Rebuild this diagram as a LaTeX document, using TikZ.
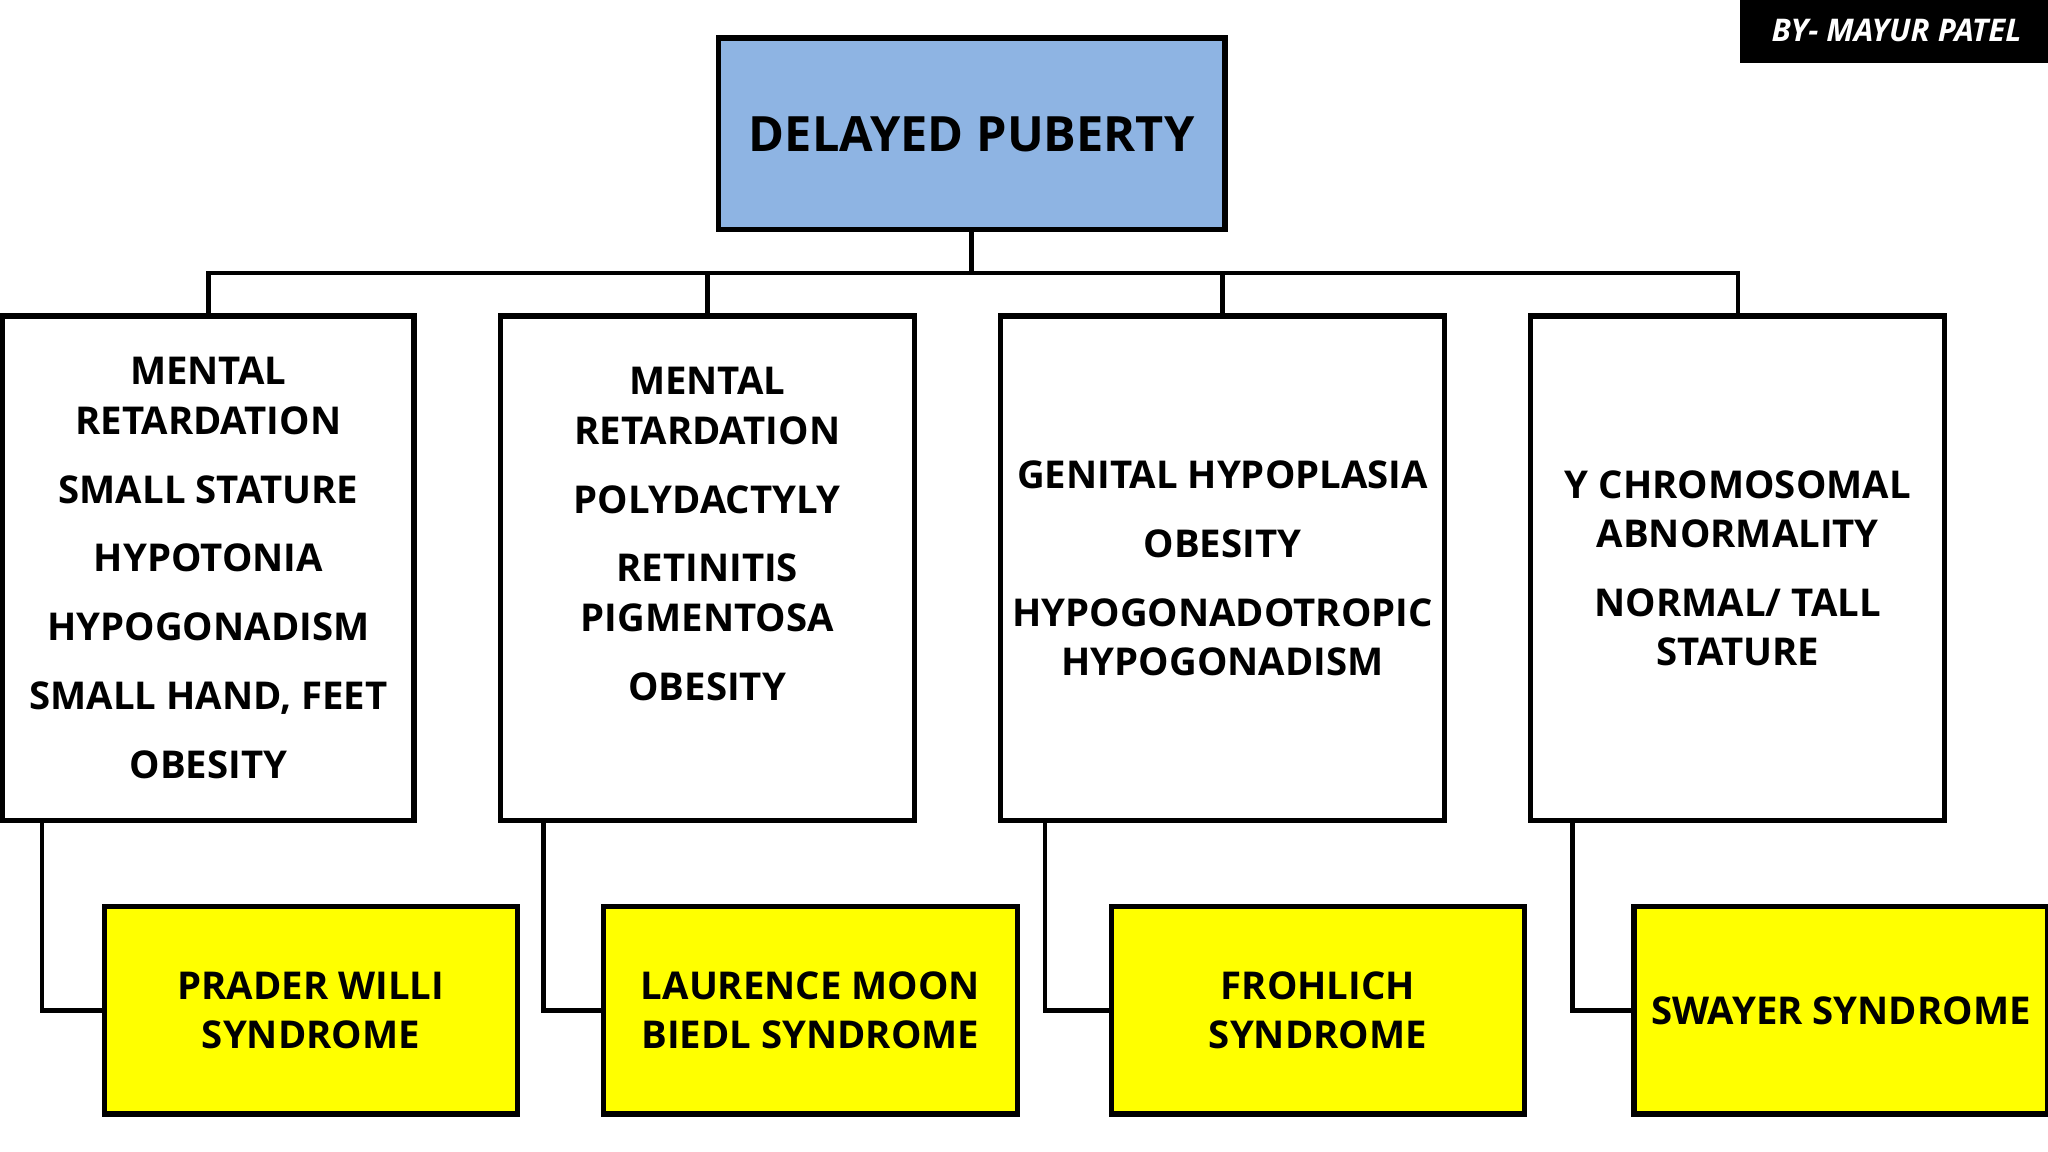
\documentclass[tikz,border=0pt]{standalone}
\usepackage{fontspec}
\setmainfont{Open Sans}
\usepackage{tikz}
\usetikzlibrary{positioning}
\definecolor{titleblue}{HTML}{8EB4E3}
\definecolor{syndyellow}{HTML}{FFFF00}
\tikzset{infobox/.style = {draw, line width = 2.3pt, align = center, minimum height = 7.72cm,
                           font = \fontsize{16.7}{21.5}\selectfont\bfseries, inner sep = 0}}
\tikzset{syndbox/.style = {infobox, fill = syndyellow, minimum height = 3.18cm}}
\tikzset{titlebox/.style = {draw, line width = 2.3pt, fill = titleblue, minimum width = 7.76cm,
                            minimum height = 2.94cm, font = \fontsize{21.2}{26}\selectfont\bfseries}}
\tikzset{link/.style = {line width = 2pt}}

\begin{document}
\begin{tikzpicture}[x = 0.02cm, y = -0.02cm]
        \useasboundingbox (0, 0) rectangle (1568, 882);
        \node (top) at (744, 102.5) [titlebox] {DELAYED PUBERTY};
        \node (by) at (1452, 23) [fill, minimum width = 4.8cm, minimum height = 1cm,
          text = white, font = \fontsize{13.6}{16}\selectfont\bfseries\itshape] {BY- MAYUR PATEL};
        \node (b1) at (159.5, 435) [infobox, minimum width = 6.3cm]
          {MENTAL\\RETARDATION\\[8.5pt]SMALL STATURE\\[8.5pt]HYPOTONIA\\[8.5pt]HYPOGONADISM\\[8.5pt]SMALL HAND, FEET\\[8.5pt]OBESITY};
        \node (b2) at (541.5, 435) [infobox, minimum width = 6.34cm]
          {MENTAL\\RETARDATION\\[8.5pt]POLYDACTYLY\\[8.5pt]RETINITIS\\PIGMENTOSA\\[8.5pt]OBESITY\\[8.5pt]\mbox{}};
        \node (b3) at (936, 435) [infobox, minimum width = 6.8cm]
          {GENITAL HYPOPLASIA\\[8.5pt]OBESITY\\[8.5pt]HYPOGONADOTROPIC\\HYPOGONADISM};
        \node (b4) at (1330.5, 435) [infobox, minimum width = 6.34cm]
          {Y CHROMOSOMAL\\ABNORMALITY\\[8.5pt]NORMAL/ TALL\\STATURE};
        \node (s1) at (238, 773.5) [syndbox, minimum width = 6.32cm] {PRADER WILLI\\SYNDROME};
        \node (s2) at (620.5, 773.5) [syndbox, minimum width = 6.34cm] {LAURENCE MOON\\BIEDL SYNDROME};
        \node (s3) at (1009, 773.5) [syndbox, minimum width = 6.32cm] {FROHLICH\\SYNDROME};
        \node (s4) at (1409.5, 773.5) [syndbox, minimum width = 6.34cm] {SWAYER SYNDROME};
        \coordinate (bus) at (744, 209);
        \draw [link] (top) -- (bus);
        \foreach \b in {b1, b2, b3, b4}
          \draw [link] (bus) -| (\b.north);
        \foreach \i/\dx in {1/0.64cm, 2/0.70cm, 3/0.72cm, 4/0.68cm}
          \draw [link] ([xshift = \dx]b\i.south west) |- (s\i.west);
      \end{tikzpicture}
\end{document}
